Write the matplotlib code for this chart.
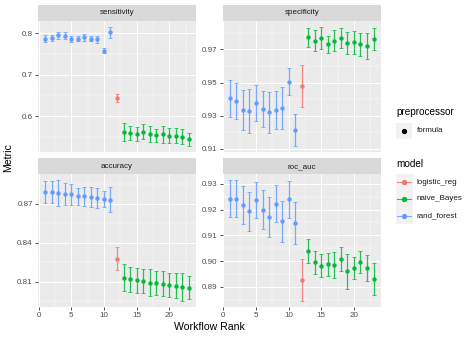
import numpy as np
import matplotlib.pyplot as plt
from matplotlib.patches import Rectangle

plt.rcParams['font.family'] = ['Liberation Sans', 'DejaVu Sans']

# --- data ---
rank = np.arange(1, 24)
model = ['rand_forest'] * 11 + ['logistic_reg'] + ['naive_Bayes'] * 11
model_levels = ['logistic_reg', 'naive_Bayes', 'rand_forest']
model_colors = ['#F8766D', '#00BA38', '#619CFF']

sens_mean = [0.787, 0.789, 0.795, 0.794, 0.786, 0.787, 0.790, 0.787, 0.785, 0.758, 0.802,
             0.644,
             0.562, 0.560, 0.557, 0.562, 0.557, 0.554, 0.556, 0.553, 0.553, 0.551, 0.544]
sens_err = [0.008, 0.007, 0.009, 0.008, 0.007, 0.007, 0.008, 0.007, 0.008, 0.006, 0.013,
            0.010,
            0.021, 0.017, 0.017, 0.018, 0.020, 0.016, 0.020, 0.018, 0.018, 0.019, 0.016]

spec_mean = [0.9404, 0.9388, 0.9334, 0.9328, 0.9376, 0.9340, 0.9320, 0.9334, 0.9344, 0.9504, 0.9214,
             0.9478,
             0.9774, 0.9752, 0.9770, 0.9730, 0.9752, 0.9766, 0.9738, 0.9742, 0.9730, 0.9720, 0.9762]
spec_err = [0.0113, 0.0110, 0.0119, 0.0132, 0.0110, 0.0107, 0.0123, 0.0117, 0.0127, 0.0082, 0.0097,
            0.0127,
            0.0057, 0.0062, 0.0065, 0.0053, 0.0063, 0.0060, 0.0065, 0.0068, 0.0070, 0.0077, 0.0066]

acc_mean = [0.8786, 0.8786, 0.8781, 0.8776, 0.8770, 0.8755, 0.8755, 0.8750, 0.8744, 0.8737, 0.8731,
            0.8277,
            0.8131, 0.8116, 0.8110, 0.8105, 0.8092, 0.8090, 0.8084, 0.8074, 0.8069, 0.8058, 0.8053]
acc_err = [0.0085, 0.0085, 0.0098, 0.0085, 0.0082, 0.0068, 0.0072, 0.0075, 0.0078, 0.0061, 0.0095,
           0.0089,
           0.0102, 0.0095, 0.0098, 0.0095, 0.0105, 0.0095, 0.0098, 0.0095, 0.0095, 0.0105, 0.0087]

roc_mean = [0.9242, 0.9242, 0.9217, 0.9193, 0.9238, 0.9200, 0.9171, 0.9222, 0.9154, 0.9240, 0.9147,
            0.8928,
            0.9039, 0.8995, 0.8982, 0.8987, 0.8986, 0.9009, 0.8961, 0.8974, 0.8997, 0.8972, 0.8929]
roc_err = [0.0072, 0.0072, 0.0074, 0.0077, 0.0070, 0.0076, 0.0079, 0.0072, 0.0078, 0.0072, 0.0082,
           0.0082,
           0.0045, 0.0045, 0.0045, 0.0045, 0.0050, 0.0047, 0.0068, 0.0042, 0.0042, 0.0050, 0.0062]

metric_names = ['sensitivity', 'specificity', 'accuracy', 'roc_auc']
metric_means = [sens_mean, spec_mean, acc_mean, roc_mean]
metric_errs = [sens_err, spec_err, acc_err, roc_err]
metric_ticks = [[0.6, 0.7, 0.8], [0.91, 0.93, 0.95, 0.97],
                [0.81, 0.84, 0.87], [0.89, 0.90, 0.91, 0.92, 0.93]]
tick_decimals = [1, 2, 2, 2]
x_ticks = [0, 5, 10, 15, 20]

# --- layout (pixels of a 474x338 canvas) ---
W, H = 474, 338
fig = plt.figure(figsize=(W / 100, H / 100), dpi=100)

panel_boxes = {  # left, top, right, bottom
    0: (38, 21, 196, 152),
    1: (222.7, 21, 380.7, 152),
    2: (38, 174.3, 196, 306.7),
    3: (222.7, 174.3, 380.7, 306.7),
}
strip_h = 16

def to_fig(l, t, r, b):
    return [l / W, 1 - b / H, (r - l) / W, (b - t) / H]

bg = '#EBEBEB'
tick_col = '#4D4D4D'

for i, name in enumerate(metric_names):
    l, t, r, b = panel_boxes[i]
    ax = fig.add_axes(to_fig(l, t, r, b))
    ax.set_facecolor(bg)
    for s in ax.spines.values():
        s.set_visible(False)

    mean = np.array(metric_means[i])
    err = np.array(metric_errs[i])
    lo, hi = (mean - err).min(), (mean + err).max()
    pad = (hi - lo) * 0.05
    ax.set_ylim(lo - pad, hi + pad)
    ax.set_xlim(-0.1, 24.1)

    # grid
    yt = metric_ticks[i]
    step = yt[1] - yt[0]
    ymin_grid = [v + step / 2 for v in [yt[0] - step] + yt]
    for v in ymin_grid:
        ax.axhline(v, color='white', lw=0.35, zorder=0)
    for v in yt:
        ax.axhline(v, color='white', lw=0.75, zorder=0)
    for v in [2.5, 7.5, 12.5, 17.5, 22.5]:
        ax.axvline(v, color='white', lw=0.35, zorder=0)
    for v in x_ticks:
        ax.axvline(v, color='white', lw=0.75, zorder=0)

    for m, c in zip(model_levels, model_colors):
        idx = [k for k, mm in enumerate(model) if mm == m]
        ax.errorbar(rank[idx], mean[idx], yerr=err[idx], fmt='none', ecolor=c,
                    elinewidth=0.9, capsize=1.2, capthick=0.6, alpha=0.85, zorder=2)
        ax.scatter(rank[idx], mean[idx], s=10, color=c, zorder=3, linewidths=0)

    ax.set_yticks(yt)
    ax.set_yticklabels([f'{v:.{tick_decimals[i]}f}' for v in yt])
    ax.tick_params(axis='y', length=2.2, width=0.6, color='#333333', pad=1.5,
                   labelsize=5.8, labelcolor=tick_col)
    if i >= 2:
        ax.set_xticks(x_ticks)
        ax.set_xticklabels([str(v) for v in x_ticks])
        ax.tick_params(axis='x', length=2.2, width=0.6, color='#333333', pad=1.5,
                       labelsize=5.8, labelcolor=tick_col)
    else:
        ax.set_xticks([])

    # strip
    sax = fig.add_axes(to_fig(l, t - strip_h, r, t))
    sax.set_facecolor('#D9D9D9')
    sax.set_xticks([])
    sax.set_yticks([])
    for s in sax.spines.values():
        s.set_visible(False)
    sax.text(0.5, 0.5, name, ha='center', va='center', fontsize=5.8,
             color='#1A1A1A', transform=sax.transAxes)

# axis titles
fig.text(209 / W, 1 - 326.5 / H, 'Workflow Rank', ha='center', va='center', fontsize=7.6)
fig.text(8 / W, 1 - 158 / H, 'Metric', ha='center', va='center', rotation=90, fontsize=7.6)

# legends drawn on an overlay in pixel units
lax = fig.add_axes([0, 0, 1, 1])
lax.set_xlim(0, W)
lax.set_ylim(H, 0)
lax.axis('off')
lax.patch.set_alpha(0)

lax.text(396, 112, 'preprocessor', ha='left', va='center', fontsize=7.2)
lax.add_patch(Rectangle((396, 123), 16, 16, facecolor='#F2F2F2', edgecolor='none'))
lax.plot([404], [131], 'o', color='black', ms=2.8)
lax.text(416.5, 131, 'formula', ha='left', va='center', fontsize=5.8, color='#1A1A1A')

lax.text(396, 164, 'model', ha='left', va='center', fontsize=7.2)
for j, (m, c) in enumerate(zip(model_levels, model_colors)):
    yc = 182.3 + j * 16.6
    lax.add_patch(Rectangle((396, yc - 8.3), 16.6, 16.6, facecolor='#F2F2F2', edgecolor='none'))
    lax.plot([397.5, 411], [yc, yc], color=c, lw=0.8, alpha=0.85)
    lax.plot([404.3], [yc], 'o', color=c, ms=2.8)
    lax.text(416.5, yc, m, ha='left', va='center', fontsize=5.8, color='#1A1A1A')

fig.savefig('out.png', dpi=100)
